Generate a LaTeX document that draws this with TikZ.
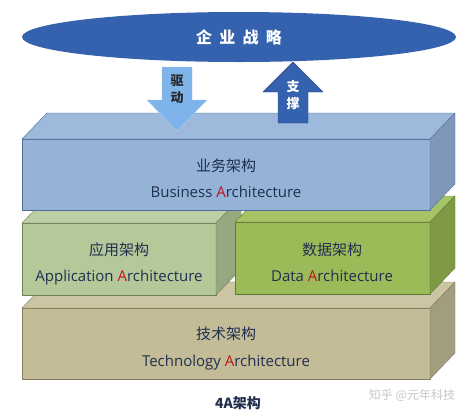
\documentclass[tikz,border=0pt]{standalone}
\usepackage{fontspec}
\setmainfont{Open Sans}
\newfontfamily\cjk{Noto Sans CJK SC}
\usetikzlibrary{shapes.geometric}
\definecolor{navy}{HTML}{1F3050}
\definecolor{archred}{HTML}{C0141E}
\definecolor{strat}{HTML}{3562AE}
\definecolor{driveF}{HTML}{7EB4EA}
\definecolor{driveL}{HTML}{A9CDF2}
\definecolor{busiF}{HTML}{95B3D7}
\definecolor{busiT}{HTML}{9DBADC}
\definecolor{busiS}{HTML}{7F97B8}
\definecolor{busiL}{HTML}{4F6F9A}
\definecolor{applF}{HTML}{B4C89A}
\definecolor{applT}{HTML}{BCCFA4}
\definecolor{applS}{HTML}{96A87F}
\definecolor{applL}{HTML}{6B7F58}
\definecolor{dataF}{HTML}{9BBB59}
\definecolor{dataT}{HTML}{A6C466}
\definecolor{dataS}{HTML}{7E9A45}
\definecolor{dataL}{HTML}{5E7A35}
\definecolor{techF}{HTML}{C4BC96}
\definecolor{techT}{HTML}{CCC5A3}
\definecolor{techS}{HTML}{A39D80}
\definecolor{techL}{HTML}{7F7A60}
\begin{document}
\begin{tikzpicture}[x=1pt,y=-1pt,line join=round,
    cn/.style={text=navy,font=\cjk\fontsize{15}{15}\selectfont},
    en/.style={text=navy,font=\fontsize{15}{15}\selectfont,anchor=base},
    tag/.style={align=center,font=\cjk\bfseries\fontsize{13}{17}\selectfont}]
    \useasboundingbox (0,0) rectangle (474,413);
    % blocks, back to front
    \foreach \xa/\ya/\xb/\yb/\col in {22/308/430/379/tech,22/223/216/295/appl,235/222/430/294/data,22/139/430/210/busi}{
        \filldraw[fill=\col F,draw=\col L] (\xa,\ya) rectangle (\xb,\yb);
        \filldraw[fill=\col T,draw=\col L] (\xa,\ya) -- ++(25,-26) -- ([shift={(25,-26)}]\xb,\ya) -- (\xb,\ya) -- cycle;
        \filldraw[fill=\col S,draw=\col L] (\xb,\ya) -- ++(25,-26) -- ++(0,{\yb-\ya}) -- (\xb,\yb) -- cycle;
    }
    \node[ellipse,fill=strat,inner sep=0pt,minimum width=434pt,minimum height=50pt,text=white,font=\cjk\bfseries\fontsize{16}{16}\selectfont] (strategy) at (239,37) {企\hspace{.45em}业\hspace{.45em}战\hspace{.45em}略};
    % arrows
    \filldraw[fill=driveF,draw=driveL] (162,67) -- (192,67) -- (192,100) -- (207,100) -- (177,131) -- (147,100) -- (162,100) -- cycle;
    \filldraw[fill=strat,draw=strat!70!black] (278,123) -- (278,92) -- (263,92) -- (293,62) -- (323,92) -- (308,92) -- (308,123) -- cycle;
    \node[tag,text=black!85] (drive) at (177,89.5) {驱\\动};
    \node[tag,text=white] (support) at (293,95) {支\\撑};
    % labels
    \node[cn] (busi-cn) at (226,166) {业务架构};
    \node[en] (busi-en) at (226,197) {Business \textcolor{archred}{A}rchitecture};
    \node[cn] (appl-cn) at (119,250) {应用架构};
    \node[en] (appl-en) at (119,281) {Application \textcolor{archred}{A}rchitecture};
    \node[cn] (data-cn) at (332,250) {数据架构};
    \node[en] (data-en) at (332,281) {Data \textcolor{archred}{A}rchitecture};
    \node[cn] (tech-cn) at (226,334) {技术架构};
    \node[en] (tech-en) at (226,366) {Technology \textcolor{archred}{A}rchitecture};
    \node[text=navy,font=\cjk\bfseries\fontsize{14}{14}\selectfont] (title) at (238,403) {4A架构};
    \node[text=black!22,font=\cjk\fontsize{12}{12}\selectfont] (mark) at (412,395) {知乎 @元年科技};
\end{tikzpicture}
\end{document}
